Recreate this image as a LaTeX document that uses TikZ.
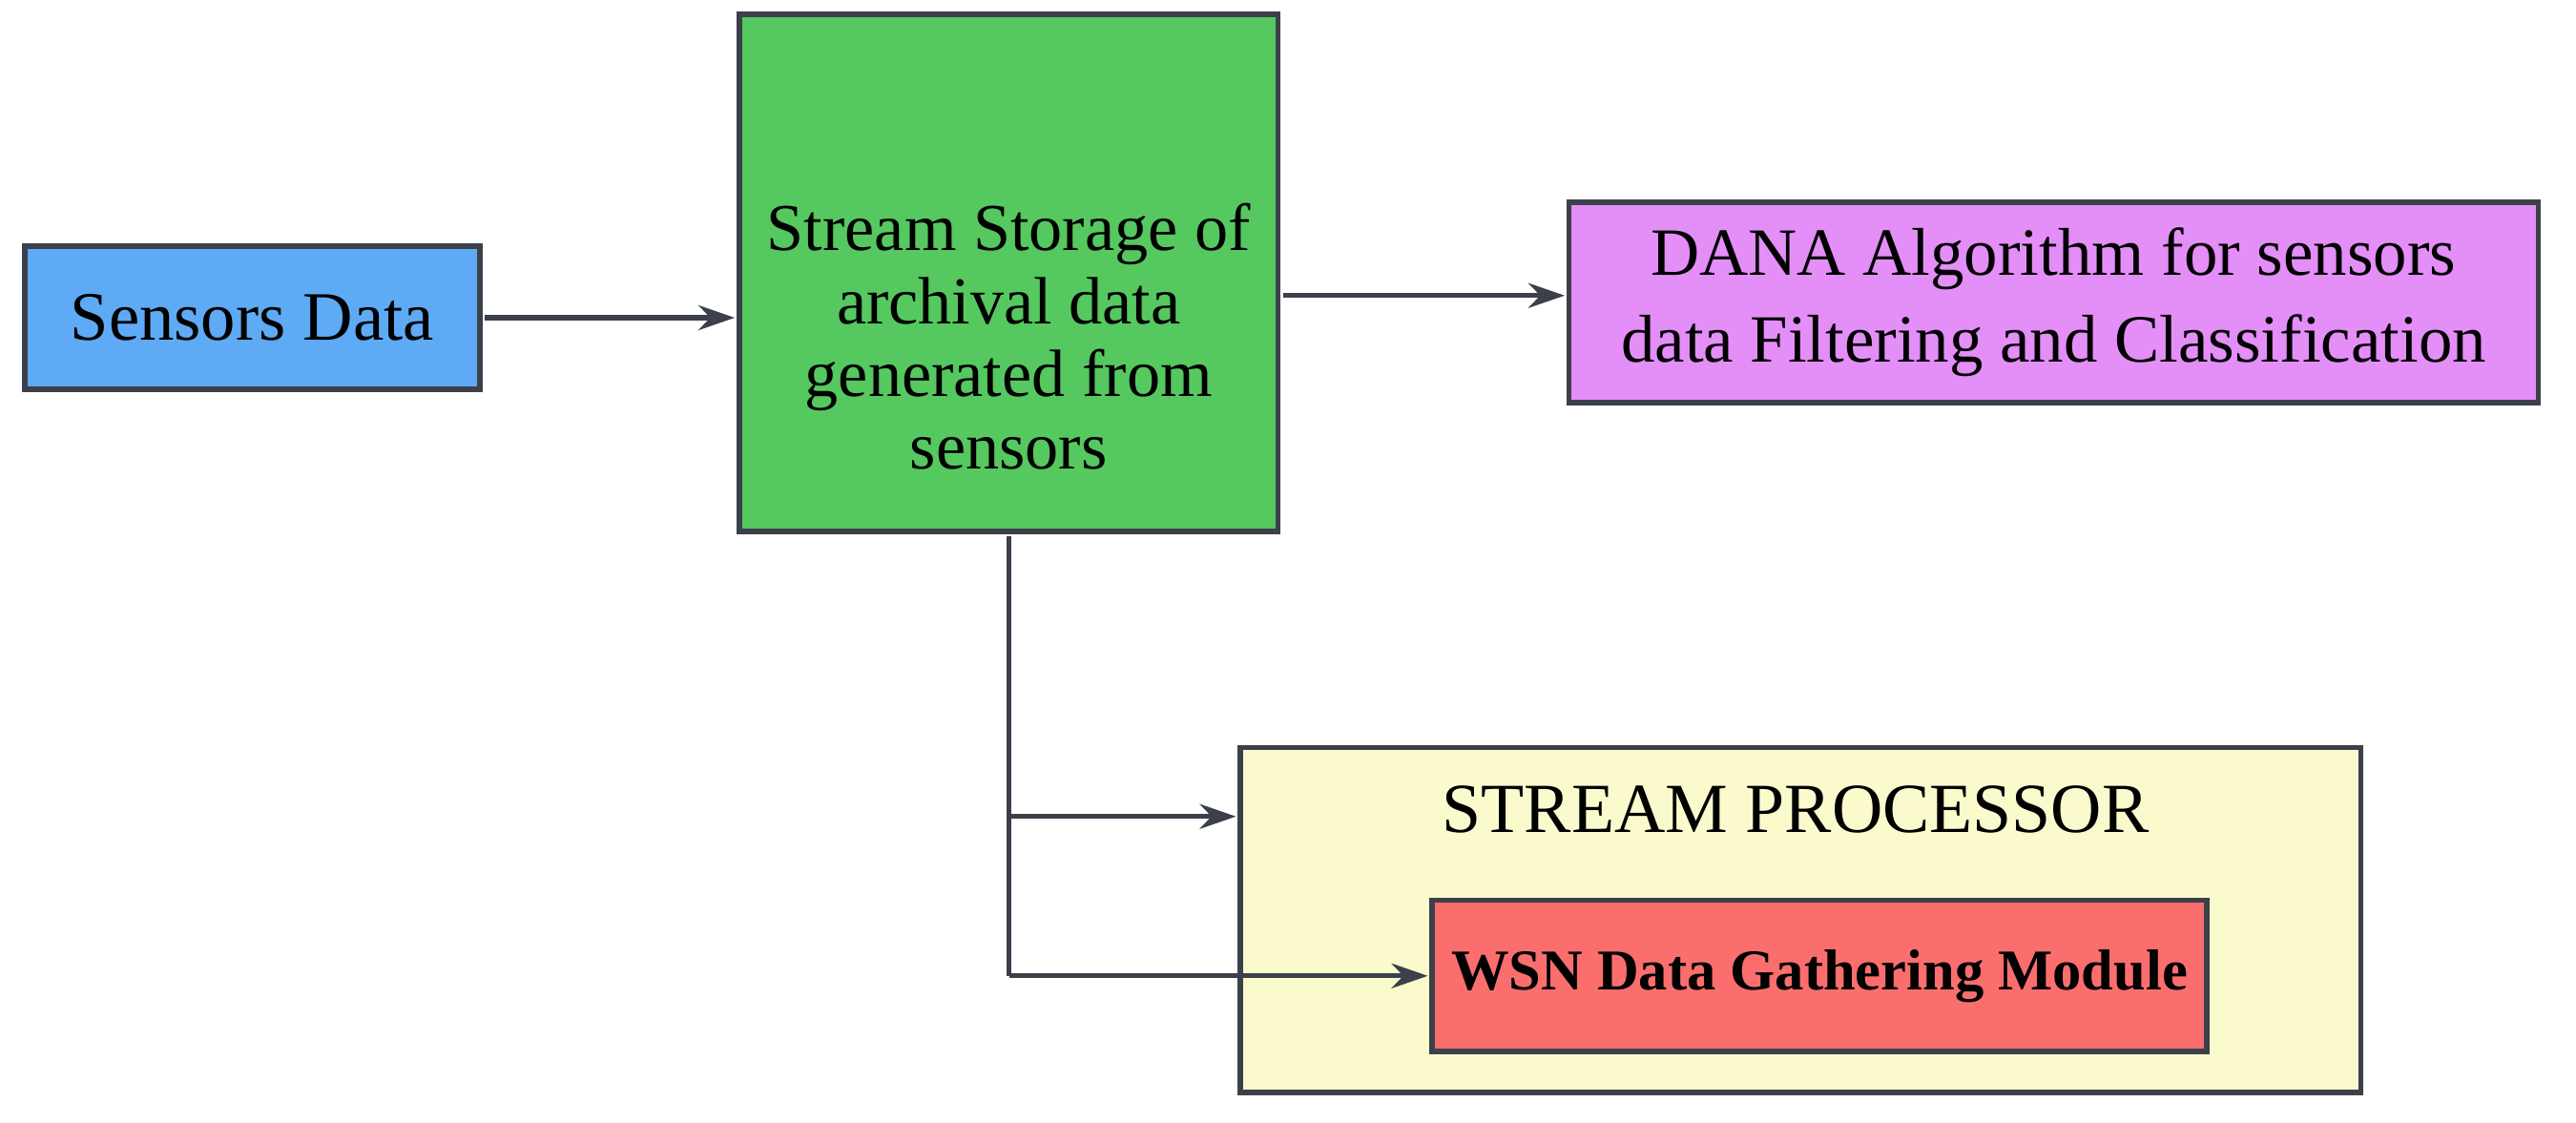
\documentclass[tikz,border=0pt]{standalone}
\usepackage{fontspec}
\setmainfont{Liberation Serif}
\usetikzlibrary{positioning,shapes.geometric,arrows.meta}

\definecolor{lineGray}{RGB}{60,64,74}
\definecolor{sensorBlue}{RGB}{95,170,245}
\definecolor{storeGreen}{RGB}{85,200,95}
\definecolor{danaViolet}{RGB}{228,142,248}
\definecolor{procYellow}{RGB}{250,250,205}
\definecolor{wsnRed}{RGB}{250,110,110}

\begin{document}
\begin{tikzpicture}[scale=1.722, every node/.style={transform shape}]
	% Styles
	\tikzstyle{block}=[draw=lineGray, rectangle, line width=1.6pt, align=center, font={\fontsize{12}{14}\selectfont}]
	\tikzstyle{arrow}=[-{Stealth[length=3.8mm,width=2.6mm]}, draw=lineGray, line width=1.5pt]

	\useasboundingbox (0,0) rectangle (15.68,6.83);

	% Blocks
	\node[block, fill=sensorBlue, minimum width=2.77cm, minimum height=0.87cm] (sensors) at (1.535,4.895) {Sensors Data};
	\node[draw=lineGray, line width=1.6pt, fill=storeGreen, cylinder, shape border rotate=90, aspect=0.25, inner sep=0pt,
		minimum width=3.28cm, minimum height=3.15cm] (storage) at (6.14,5.155) {};
	\node[align=center, font={\fontsize{11.6}{12.6}\selectfont}] (storagetext) at (6.14,4.78)
		{Stream Storage of\\archival data\\generated from\\sensors};
	\node[block, fill=danaViolet, minimum width=5.9cm, minimum height=1.22cm, font={\fontsize{11.7}{15}\selectfont}] (dana) at (12.5,4.99)
		{DANA Algorithm for sensors\\data Filtering and Classification};
	\node[block, fill=procYellow, minimum width=6.82cm, minimum height=2.1cm] (processor) at (10.96,1.23) {};
	\node[font={\fontsize{12.2}{14}\selectfont}] (title) at (10.93,1.90) {STREAM PROCESSOR};
	\node[block, fill=wsnRed, minimum width=4.65cm, minimum height=0.92cm, font={\fontsize{10}{12}\selectfont\bfseries}] (wsn) at (11.075,0.89)
		{WSN Data Gathering Module};

	% Connectors
	\coordinate (branch) at (6.14,1.86);
	\coordinate (corner) at (6.14,0.89);
	\coordinate (tap) at (6.14,5.03);
	\draw[arrow] (sensors.east) -- (sensors.east -| storage.west);
	\draw[arrow] (tap -| storage.east) -- (tap -| dana.west);
	\draw[draw=lineGray, line width=1.5pt] (storage.bottom) -- (corner);
	\draw[arrow] (corner) -- (wsn.west);
	\draw[arrow] (branch) -- (branch -| processor.west);
\end{tikzpicture}
\end{document}
